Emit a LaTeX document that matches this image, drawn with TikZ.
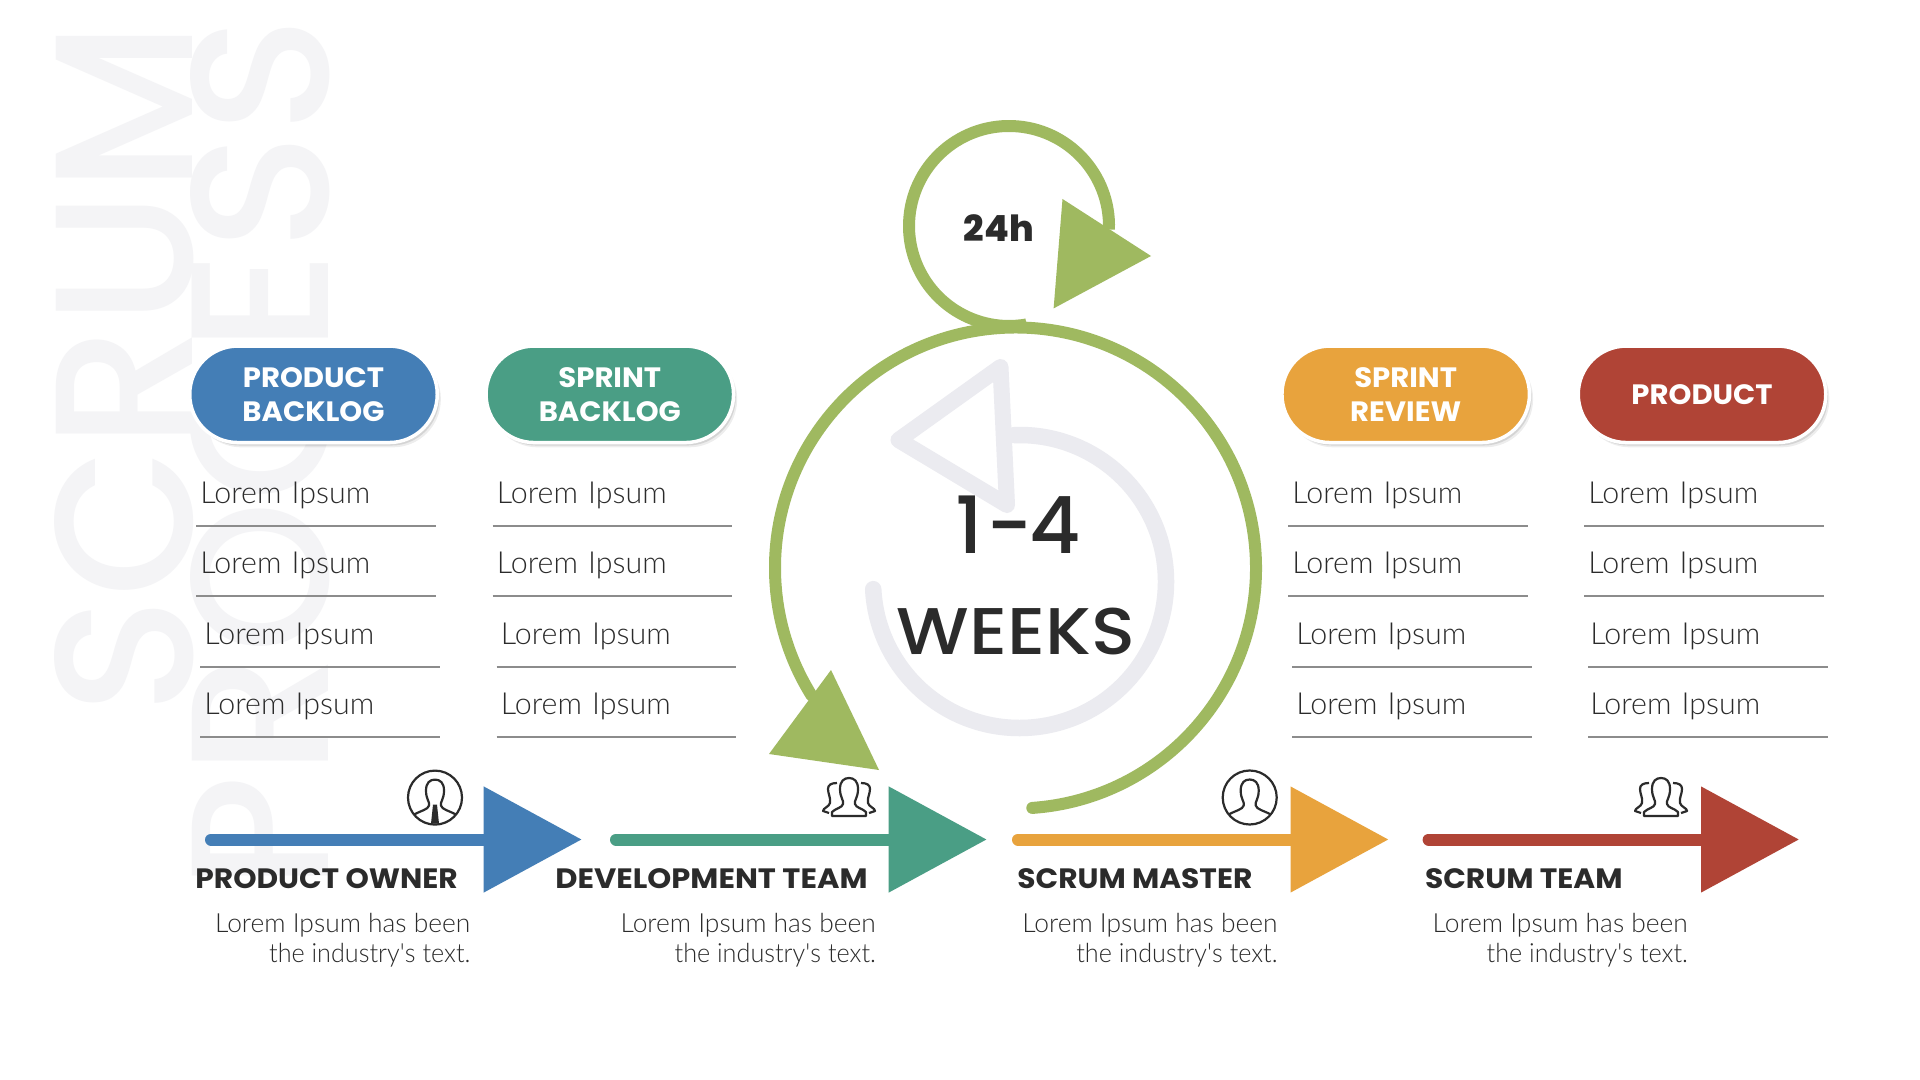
\documentclass[tikz,border=0pt]{standalone}
\usepackage{fontspec}
\usepackage{xcolor}
\usetikzlibrary{arrows.meta,shadows,positioning}
\setmainfont{Lato Light}
\newfontfamily\tightfont{Lato Light}[FakeStretch=.955]
\newfontfamily\pillfont{Poppins Bold}[FakeStretch=1.04]
\newfontfamily\rolefont{Poppins Bold}[FakeStretch=1.06]
\newfontfamily\devfont{Poppins Bold}[FakeStretch=1.09]
\newfontfamily\dayfont{Poppins ExtraBold}
\newfontfamily\midfont{Poppins Medium}
\newfontfamily\widefont{Poppins Medium}[FakeStretch=1.1]
\newfontfamily\backfont{Poppins Medium}[FakeStretch=.987]

\definecolor{ownerblue}{HTML}{447EB6}
\definecolor{devgreen}{HTML}{4A9E85}
\definecolor{masterorange}{HTML}{E8A33D}
\definecolor{teamred}{HTML}{B04436}
\definecolor{ringgreen}{HTML}{9FB960}
\definecolor{paleback}{HTML}{F4F4F6}
\definecolor{palegrey}{HTML}{EBEBF0}
\definecolor{inkdark}{HTML}{2B2B2B}
\definecolor{rulegrey}{HTML}{8C8C8C}

\tikzset{
    pillbox/.style={draw=white, fill=#1, line width=1.75pt, rounded corners=24pt,
        minimum width=123.75pt, minimum height=48.25pt, text=white, align=center,
        font=\pillfont\fontsize{14pt}{17pt}\selectfont,
        drop shadow={shadow xshift=.5pt, shadow yshift=-.7pt, fill=black, opacity=.12},
        drop shadow={shadow xshift=1.1pt, shadow yshift=-1.5pt, fill=black, opacity=.1},
        drop shadow={shadow xshift=1.8pt, shadow yshift=-2.4pt, fill=black, opacity=.07}},
    rowtext/.style={inner ysep=0pt, inner xsep=2pt, text width=115.5pt, align=left,
        text height=10pt, text depth=11pt, text=inkdark,
        font=\fontsize{15.2pt}{18pt}\selectfont},
    rulerow/.style={draw=rulegrey, line width=.9pt},
    flowarrow/.style={draw=#1, line width=6pt, line cap=round,
        -{Triangle[length=49pt, width=51.5pt, fill=#1]}},
    rolename/.style={anchor=base west, inner sep=0pt, text=inkdark,
        font=\rolefont\fontsize{14pt}{16pt}\selectfont},
    roletext/.style={anchor=east, inner sep=0pt, align=right, text=inkdark,
        font=\fontsize{13.2pt}{14.75pt}\selectfont},
    ringline/.style={draw=ringgreen, line width=6pt, line cap=round},
    iconline/.style={draw=inkdark, line width=1.1pt, line join=round, fill=none},
    backword/.style={rotate=90, anchor=base west, inner sep=0pt, text=paleback,
        font=\backfont\fontsize{98pt}{98pt}\selectfont},
    personicon/.pic={
        \draw[iconline] (0,0) circle[radius=13.5pt];
        \draw[iconline] (-21,17) .. controls (-14,13) and (-7,12) .. (-6,8)
            .. controls (-5,4) and (-9,2) .. (-9,-7)
            .. controls (-9,-15) and (-5,-18) .. (0,-18)
            .. controls (5,-18) and (9,-15) .. (9,-7)
            .. controls (9,2) and (5,4) .. (6,8)
            .. controls (7,12) and (14,13) .. (21,17);
    },
    tieicon/.pic={
        \fill[inkdark] (-2,7) -- (2,7) -- (4,26) -- (-4,26) -- cycle;
    },
    teamicon/.pic={
        \draw[iconline] (-17,18) -- (-17,14) .. controls (-13,10) and (-7,10) .. (-6,6)
            .. controls (-5,2) and (-9,0) .. (-9,-9)
            .. controls (-9,-17) and (-5,-20) .. (0,-20)
            .. controls (5,-20) and (9,-17) .. (9,-9)
            .. controls (9,0) and (5,2) .. (6,6)
            .. controls (7,10) and (13,10) .. (17,14) -- (17,18) -- cycle;
        \draw[iconline] (-12,-15) .. controls (-18,-15) and (-21,-13) .. (-21,-9)
            .. controls (-21,-4) and (-18,0) .. (-19,5)
            .. controls (-20,9) and (-26,10) .. (-26,13) -- (-20,15);
        \draw[iconline] (12,-15) .. controls (18,-15) and (21,-13) .. (21,-9)
            .. controls (21,-4) and (18,0) .. (19,5)
            .. controls (20,9) and (26,10) .. (26,13) -- (20,15);
    }
}

\begin{document}
\begin{tikzpicture}[x=.5pt, y=-.5pt, node distance=34.9pt]
    \path[use as bounding box, fill=white] (0,0) rectangle (1920,1080);

    % pale words at the back
    \node (scrumword) [backword] at (192.7,715) {SCRUM};
    \node (processword) [backword] at (328,891) {PROCESS};

    % pale loop in the middle
    \coordinate (palecentre) at (1019.5,581.5);
    \draw[palegrey, line width=8.25pt, line cap=round]
        ([shift={(183:73.25pt)}]palecentre) arc[start angle=183, end angle=452, radius=73.25pt];
    \coordinate (paletop) at (1000.5,367);
    \coordinate (paleleft) at (898.5,440);
    \coordinate (palelow) at (1007,505);
    \draw[palegrey, line width=8pt, line join=round, fill=white] (paletop) -- (paleleft) -- (palelow) -- cycle;

    % green loops
    \coordinate (ringcentre) at (1015.5,568);
    \draw[ringline] ([shift={(-86:120.25pt)}]ringcentre) arc[start angle=-86, end angle=212, radius=120.25pt];
    \coordinate (ringheada) at (769,754);
    \coordinate (ringheadb) at (831,670);
    \coordinate (ringheadc) at (879,770);
    \fill[ringgreen] (ringheada) -- (ringheadb) -- (ringheadc) -- cycle;

    \coordinate (daycentre) at (1009,226);
    \draw[ringline, line cap=butt] ([shift={(-2:50pt)}]daycentre) arc[start angle=-2, end angle=280, radius=50pt];
    \coordinate (dayheada) at (1062.5,199);
    \coordinate (dayheadb) at (1151,256);
    \coordinate (dayheadc) at (1053.6,308.4);
    \fill[ringgreen] (dayheada) -- (dayheadb) -- (dayheadc) -- cycle;

    \node (daylabel) [text=inkdark, font=\dayfont\fontsize{18pt}{20pt}\selectfont] at (999,228) {24h};
    \node (sprintnum) [text=inkdark, font=\midfont\fontsize{39.5pt}{44pt}\selectfont] at (1018,525) {1\kern1.5pt-\kern-1.5pt4};
    \node (sprintword) [text=inkdark, font=\widefont\fontsize{33pt}{36pt}\selectfont] at (1016,631) {WEEKS};

    % pills
    \node (productbacklog) [pillbox=ownerblue] at (313.5,394.3) {PRODUCT\\BACKLOG};
    \node (sprintbacklog) [pillbox=devgreen] at (609.8,394.3) {SPRINT\\BACKLOG};
    \node (sprintreview) [pillbox=masterorange] at (1405.7,394.3) {SPRINT\\REVIEW};
    \node (productout) [pillbox=teamred] at (1702,394.3) {PRODUCT};

    % rows
    \node (pbone) [rowtext, anchor=south west] at (196,526) {Lorem Ipsum};
    \node (pbtwo) [rowtext, below of=pbone] {Lorem Ipsum};
    \node (pbthree) [rowtext, below of=pbtwo, xshift=2pt, yshift=-.8pt] {Lorem Ipsum};
    \node (pbfour) [rowtext, below of=pbthree] {Lorem Ipsum};

    \node (sbone) [rowtext, anchor=south west] at (492.5,526) {Lorem Ipsum};
    \node (sbtwo) [rowtext, below of=sbone] {Lorem Ipsum};
    \node (sbthree) [rowtext, below of=sbtwo, xshift=2pt, yshift=-.8pt] {Lorem Ipsum};
    \node (sbfour) [rowtext, below of=sbthree] {Lorem Ipsum};

    \node (srone) [rowtext, anchor=south west] at (1288,526) {Lorem Ipsum};
    \node (srtwo) [rowtext, below of=srone] {Lorem Ipsum};
    \node (srthree) [rowtext, below of=srtwo, xshift=2pt, yshift=-.8pt] {Lorem Ipsum};
    \node (srfour) [rowtext, below of=srthree] {Lorem Ipsum};

    \node (prone) [rowtext, anchor=south west] at (1584,526) {Lorem Ipsum};
    \node (prtwo) [rowtext, below of=prone] {Lorem Ipsum};
    \node (prthree) [rowtext, below of=prtwo, xshift=2pt, yshift=-.8pt, inner xsep=1pt, text width=117.5pt] {Lorem Ipsum};
    \node (prfour) [rowtext, below of=prthree, inner xsep=1pt, text width=117.5pt] {Lorem Ipsum};

    \path[rulerow]
        (pbone.south west) edge (pbone.south east)
        (pbtwo.south west) edge (pbtwo.south east)
        (pbthree.south west) edge (pbthree.south east)
        (pbfour.south west) edge (pbfour.south east)

        (sbone.south west) edge (sbone.south east)
        (sbtwo.south west) edge (sbtwo.south east)
        (sbthree.south west) edge (sbthree.south east)
        (sbfour.south west) edge (sbfour.south east)

        (srone.south west) edge (srone.south east)
        (srtwo.south west) edge (srtwo.south east)
        (srthree.south west) edge (srthree.south east)
        (srfour.south west) edge (srfour.south east)

        (prone.south west) edge (prone.south east)
        (prtwo.south west) edge (prtwo.south east)
        (prthree.south west) edge (prthree.south east)
        (prfour.south west) edge (prfour.south east)
    ;

    % arrows
    \coordinate (ownerstart) at (211,839.5);
    \coordinate (ownertip) at (581.7,839.5);
    \coordinate (devstart) at (616,839.5);
    \coordinate (devtip) at (986.7,839.5);
    \coordinate (masterstart) at (1018,839.5);
    \coordinate (mastertip) at (1388.5,839.5);
    \coordinate (teamstart) at (1428.6,839.5);
    \coordinate (teamtip) at (1799,839.5);
    \draw[flowarrow=ownerblue] (ownerstart) -- (ownertip);
    \draw[flowarrow=devgreen] (devstart) -- (devtip);
    \draw[flowarrow=masterorange] (masterstart) -- (mastertip);
    \draw[flowarrow=teamred] (teamstart) -- (teamtip);

    % icons
    \pic at (435,797.6) {personicon};
    \pic at (435,797.6) {tieicon};
    \pic at (849,798) {teamicon};
    \pic at (1249.7,797.5) {personicon};
    \pic at (1661,798) {teamicon};

    % roles
    \node (ownername) [rolename] at (195,888.5) {PRODUCT OWNER};
    \node (devname) [rolename] at (555,888.5) {\devfont DEVELOPMENT TEAM};
    \node (mastername) [rolename] at (1017,888.5) {SCRUM MASTER};
    \node (teamname) [rolename] at (1424.7,888.5) {SCRUM TEAM};

    \node (ownertext) [roletext] at (470.8,940.3) {Lorem Ipsum has been\\{\tightfont the industry\textquotesingle s text.}};
    \node (devtext) [roletext] at (876.3,940.3) {Lorem Ipsum has been\\{\tightfont the industry\textquotesingle s text.}};
    \node (mastertext) [roletext] at (1278,940.3) {Lorem Ipsum has been\\{\tightfont the industry\textquotesingle s text.}};
    \node (teamtext) [roletext] at (1688.3,940.3) {Lorem Ipsum has been\\{\tightfont the industry\textquotesingle s text.}};
\end{tikzpicture}
\end{document}
